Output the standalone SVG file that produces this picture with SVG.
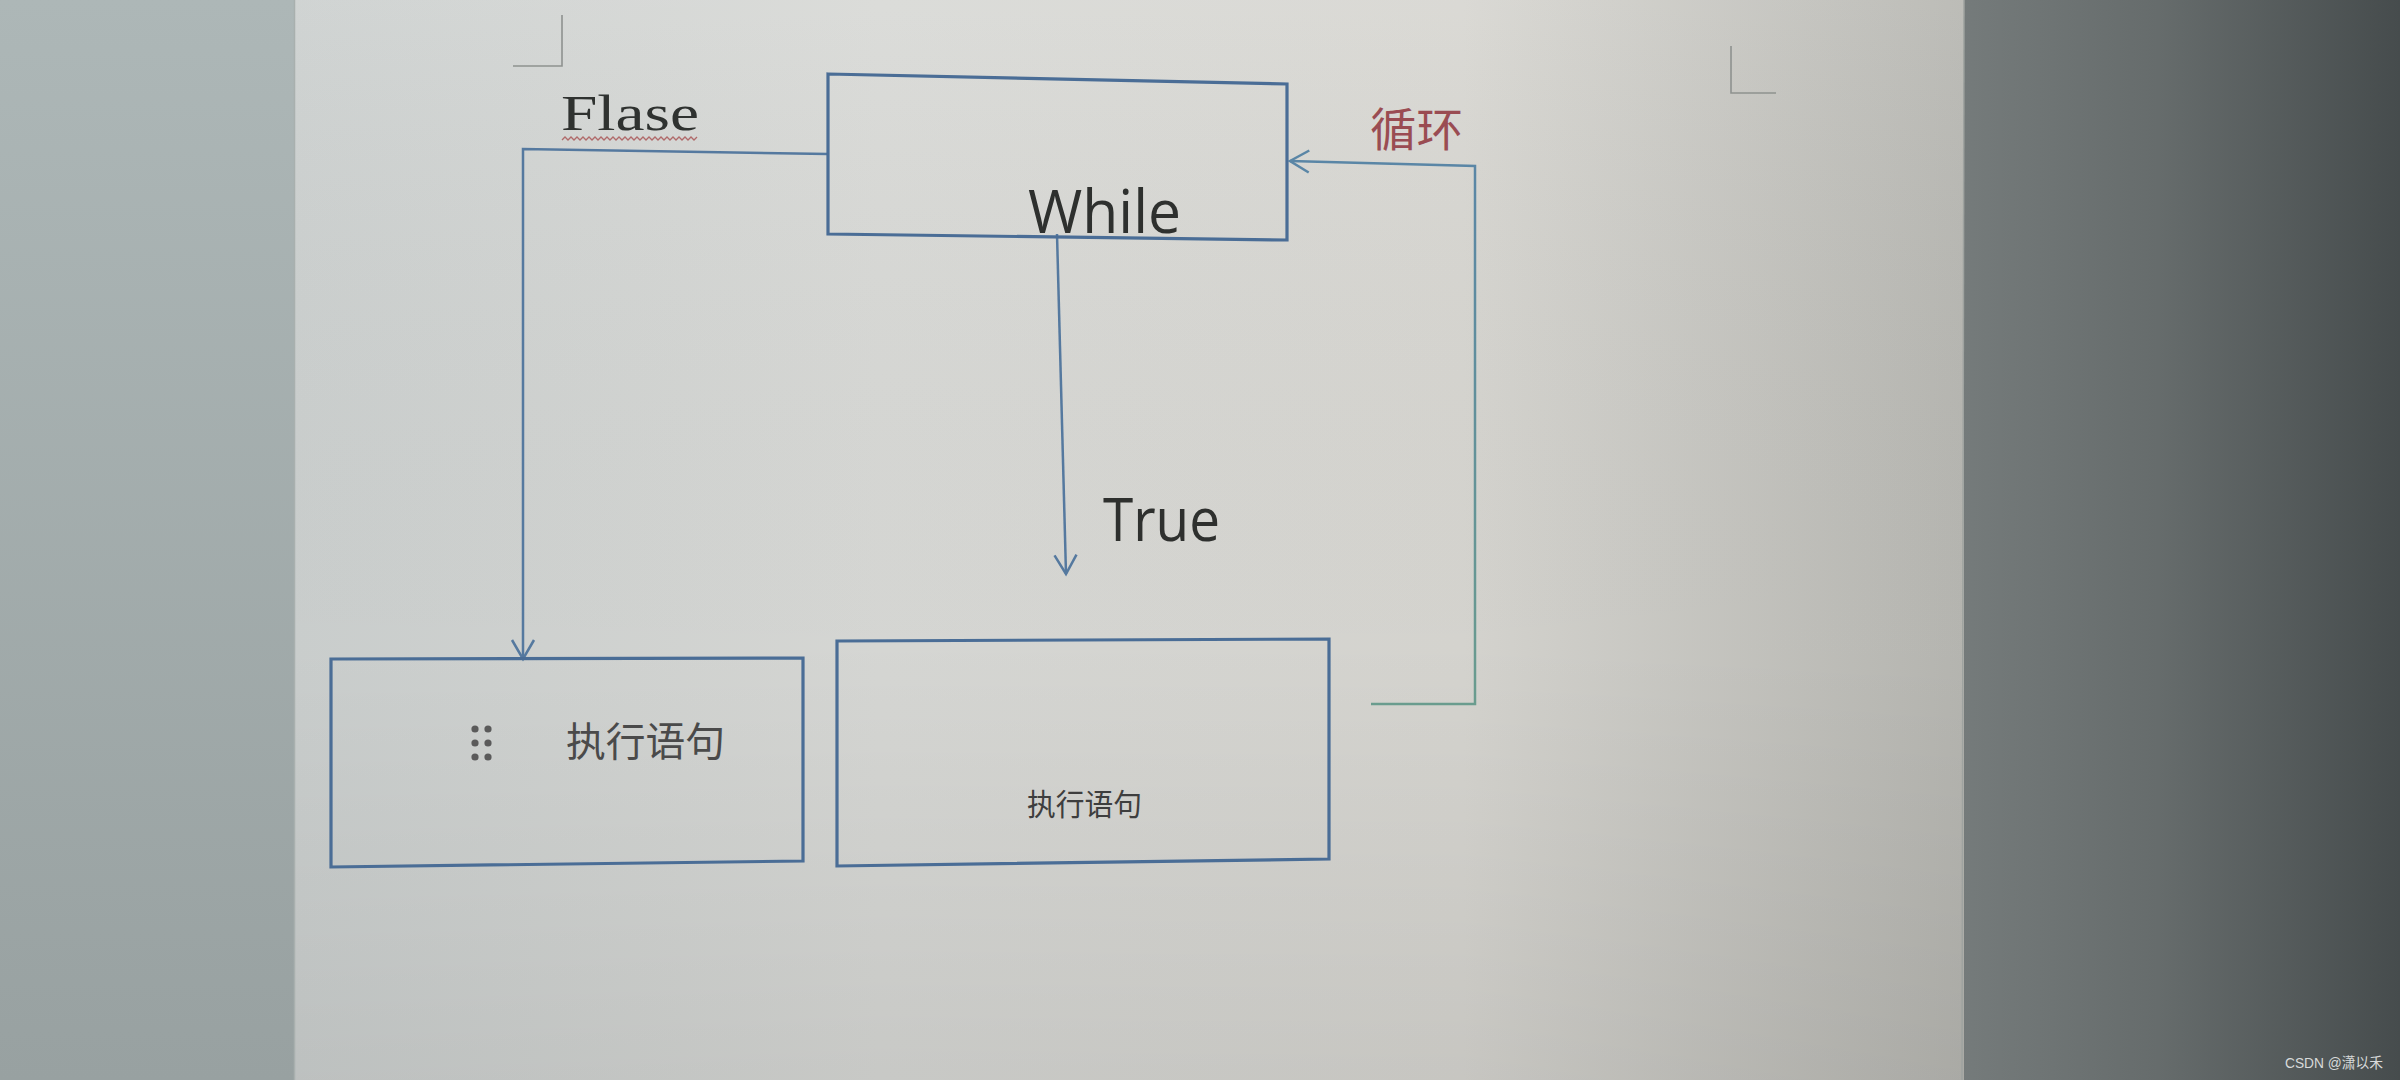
<svg xmlns="http://www.w3.org/2000/svg" width="2400" height="1080" viewBox="0 0 2400 1080">
  <defs>
    <linearGradient id="bgLeft" x1="0" y1="0" x2="0" y2="1">
      <stop offset="0" stop-color="#adb7b7"/>
      <stop offset="1" stop-color="#98a1a1"/>
    </linearGradient>
    <linearGradient id="bgRight" x1="0" y1="0" x2="1" y2="0">
      <stop offset="0" stop-color="#757b7b"/>
      <stop offset="0.45" stop-color="#666c6c"/>
      <stop offset="1" stop-color="#464c4d"/>
    </linearGradient>
    <linearGradient id="pageH" x1="0" y1="0" x2="1" y2="0">
      <stop offset="0" stop-color="#cdd1d0"/>
      <stop offset="0.35" stop-color="#d9dad7"/>
      <stop offset="0.7" stop-color="#d8d7d2"/>
      <stop offset="1" stop-color="#b8b8b3"/>
    </linearGradient>
    <linearGradient id="pageV" x1="0" y1="0" x2="0" y2="1">
      <stop offset="0" stop-color="#ffffff" stop-opacity="0.06"/>
      <stop offset="0.6" stop-color="#000000" stop-opacity="0.02"/>
      <stop offset="1" stop-color="#000000" stop-opacity="0.08"/>
    </linearGradient>
    <linearGradient id="loopGrad" x1="0" y1="0" x2="0" y2="1">
      <stop offset="0" stop-color="#5a86a6"/>
      <stop offset="1" stop-color="#6a9c8e"/>
    </linearGradient>
    <marker id="arrowOpen" markerWidth="26" markerHeight="26" refX="21" refY="13" orient="auto" markerUnits="userSpaceOnUse">
      <path d="M2,2 L21,13 L2,24" fill="none" stroke="#55799f" stroke-width="2.5"/>
    </marker>
    <marker id="arrowLoop" markerWidth="26" markerHeight="26" refX="21" refY="13" orient="auto" markerUnits="userSpaceOnUse">
      <path d="M2,2 L21,13 L2,24" fill="none" stroke="#5a86a6" stroke-width="2.5"/>
    </marker>
  </defs>
  <style>
    .box { fill: none; stroke: #4a6d96; stroke-width: 3.2; stroke-linejoin: miter; }
    .conn { fill: none; stroke: #55799f; stroke-width: 2.5; }
    .big { font-family: "Open Sans", "Noto Sans", "DejaVu Sans", sans-serif; font-size: 60px; fill: #2e302e; }
    .serif { font-family: "Liberation Serif", "DejaVu Serif", serif; font-size: 50px; fill: #2f3230; }
    .cjk { font-family: "Noto Sans CJK SC", "Noto Sans", sans-serif; }
    .exec1 { fill: #4a4a4a; font-size: 40px; }
    .exec2 { fill: #3e3e3e; font-size: 30px; }
    .loop { fill: #9a4c52; font-size: 46px; }
    .mark { fill: none; stroke: #8e928f; stroke-width: 1.6; }
  </style>

  <!-- background scene -->
  <rect x="0" y="0" width="300" height="1080" fill="url(#bgLeft)"/>
  <rect x="1960" y="0" width="440" height="1080" fill="url(#bgRight)"/>
  <rect x="294" y="0" width="1670" height="1080" fill="url(#pageH)"/>
  <rect x="294" y="0" width="1670" height="1080" fill="url(#pageV)"/>
  <line x1="294.5" y1="0" x2="294.5" y2="1080" stroke="#a9b0ae" stroke-width="1.5"/>
  <line x1="1964" y1="0" x2="1962" y2="1080" stroke="#9fa3a0" stroke-width="1.5"/>

  <!-- page corner marks -->
  <path class="mark" d="M513,66 H562 V15"/>
  <path class="mark" d="M1731,46 V93 H1776"/>

  <!-- connectors -->
  <g id="connectors">
    <path id="edge-false" class="conn" d="M828,154 L523,149 L523,659" marker-end="url(#arrowOpen)"/>
    <path id="edge-true" class="conn" d="M1057,234 L1066,574" marker-end="url(#arrowOpen)"/>
    <path id="edge-loop" d="M1371,704 H1475 V166 L1290,161" fill="none" stroke="url(#loopGrad)" stroke-width="2.5" marker-end="url(#arrowLoop)"/>
  </g>

  <!-- nodes -->
  <g id="node-while">
    <polygon class="box" points="828,74 1287,84 1287,240 828,234"/>
    <text class="big" x="1028" y="233" textLength="153" lengthAdjust="spacingAndGlyphs">While</text>
  </g>

  <g id="node-exec-false">
    <polygon class="box" points="331,659 803,658 803,861 331,867"/>
    <g fill="#5a5a5a">
      <circle cx="475" cy="729" r="3.6"/><circle cx="488" cy="729" r="3.6"/>
      <circle cx="475" cy="743" r="3.6"/><circle cx="488" cy="743" r="3.6"/>
      <circle cx="475" cy="757" r="3.6"/><circle cx="488" cy="757" r="3.6"/>
    </g>
    <text class="cjk exec1" x="566" y="756" textLength="159" lengthAdjust="spacingAndGlyphs">执行语句</text>
  </g>

  <g id="node-exec-true">
    <polygon class="box" points="837,641 1329,639 1329,859 837,866"/>
    <text class="cjk exec2" x="1027" y="815" textLength="115" lengthAdjust="spacingAndGlyphs">执行语句</text>
  </g>

  <!-- edge labels -->
  <g id="labels">
    <text class="serif" x="561" y="130" textLength="138" lengthAdjust="spacingAndGlyphs">Flase</text>
    <polyline points="562,140 565,137 568,140 571,137 574,140 577,137 580,140 583,137 586,140 589,137 592,140 595,137 598,140 601,137 604,140 607,137 610,140 613,137 616,140 619,137 622,140 625,137 628,140 631,137 634,140 637,137 640,140 643,137 646,140 649,137 652,140 655,137 658,140 661,137 664,140 667,137 670,140 673,137 676,140 679,137 682,140 685,137 688,140 691,137 694,140 697,137" fill="none" stroke="#b06a6a" stroke-width="1.3"/>
    <text class="big" x="1103" y="541" textLength="117" lengthAdjust="spacingAndGlyphs">True</text>
    <text class="cjk loop" x="1370" y="146" textLength="93" lengthAdjust="spacingAndGlyphs">循环</text>
  </g>

  <!-- watermark -->
  <text x="2285" y="1068" font-family="Liberation Sans, Noto Sans CJK SC, sans-serif" font-size="14.5" fill="#d8dada" textLength="98" lengthAdjust="spacingAndGlyphs">CSDN @潇以禾</text>
</svg>
